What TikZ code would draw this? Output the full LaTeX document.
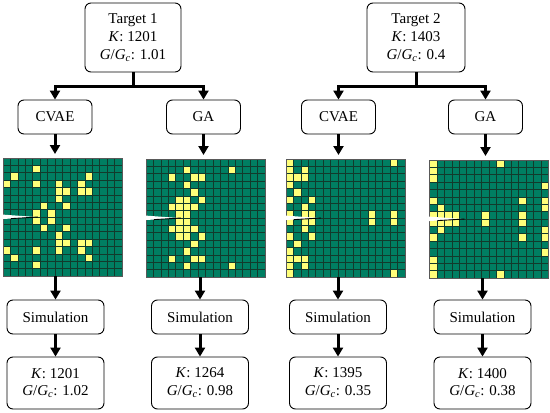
\documentclass[tikz,border=0pt]{standalone}
\usepackage{fontspec}
\setmainfont{Liberation Serif}
\usetikzlibrary{arrows.meta,calc}

\definecolor{cellgreen}{RGB}{0,126,98}
\definecolor{cellyellow}{RGB}{255,255,122}
\definecolor{cellline}{RGB}{18,58,44}

\newcommand{\GGc}{\textit{G}/\textit{G}\textsubscript{\textit{c}}}
\newcommand{\cellw}{7.4375}
\newcommand{\cellh}{7.375}

% one design: grid node name, list of yellow col/row cells
\newcommand{\designgrid}[2]{%
	\fill[cellgreen] (#1.north west) rectangle (#1.south east);
	\foreach \cx/\cy in {#2}
		\fill[cellyellow] ($(#1.north west)+(\cx*\cellw,\cy*\cellh)$) rectangle ++(\cellw,\cellh);
	\foreach \i in {1,...,15} {
		\draw[cellline, line width=0.6pt] ($(#1.north west)+(\i*\cellw,0)$) -- ($(#1.south west)+(\i*\cellw,0)$);
		\draw[cellline, line width=0.6pt] ($(#1.north west)+(0,\i*\cellh)$) -- ($(#1.north east)+(0,\i*\cellh)$);
	}
	\draw[gray!70!black, line width=0.8pt] (#1.north west) rectangle (#1.south east);
	% crack
	\fill[white] ($(#1.west)+(-3,-2.6)$) -- ($(#1.west)+(33,0)$) -- ($(#1.west)+(-3,2.2)$) -- cycle;
	\draw[line width=0.9pt] ($(#1.west)+(8,1.6)$) -- ($(#1.west)+(35,0)$);
}

\begin{document}
\begin{tikzpicture}[x=1pt, y=-1pt,
	box/.style={draw, rounded corners=6pt, line width=0.9pt, align=center, inner sep=0pt, font=\fontsize{15}{17.7}\selectfont},
	flow/.style={-{Triangle[width=10pt,length=9pt]}, line width=3pt},
	gridbox/.style={minimum width=119pt, minimum height=118pt, inner sep=0pt, outer sep=0pt}]
	
		\useasboundingbox (0,0) rectangle (550,413);
		
		% Targets
		\node[box, minimum width=96pt, minimum height=69pt] (t1) at (133,37.5) {Target 1\\\textit{K}: 1201\\\GGc: 1.01};
		\node[box, minimum width=98pt, minimum height=69pt] (t2) at (416,37.5) {Target 2\\\textit{K}: 1403\\\GGc: 0.4};
		\coordinate (j1) at (133,86);
		\coordinate (j2) at (416,86);
		
		% Methods
		\foreach \n/\x/\meth in {1/55/CVAE, 2/203.5/GA, 3/338.5/CVAE, 4/485.5/GA}
			\node[box, minimum width=74pt, minimum height=34pt] (m\n) at (\x,117) {\meth};
		
		% Designs
		\node[gridbox] (g1) at (62.5,217) {};
		\node[gridbox] (g2) at (205.5,218) {};
		\node[gridbox] (g3) at (345.5,218) {};
		\node[gridbox] (g4) at (489,219) {};
		
		\designgrid{g1}{4/1, 1/2, 11/2, 0/3, 4/3, 7/3, 10/3, 7/4, 8/4, 10/4, 11/4, 7/5, 5/6, 8/6, 4/7, 6/7,
			4/8, 6/8, 5/9, 8/9, 7/10, 7/11, 8/11, 10/11, 11/11, 0/12, 4/12, 7/12, 10/12, 1/13, 11/13, 4/14}
		\designgrid{g2}{5/1, 11/1, 3/2, 6/2, 7/2, 5/3, 6/4, 4/5, 5/5, 7/5, 3/6, 4/6, 5/6, 6/6, 4/7, 5/7,
			4/8, 5/8, 3/9, 4/9, 5/9, 6/9, 4/10, 5/10, 7/10, 6/11, 5/12, 3/13, 6/13, 7/13, 5/14, 11/14}
		\designgrid{g3}{0/0, 14/0, 0/1, 2/1, 0/2, 1/2, 2/2, 0/3, 1/4, 0/5, 3/5, 2/6, 0/7, 2/7, 3/7, 11/7, 14/7,
			0/8, 2/8, 3/8, 11/8, 14/8, 2/9, 0/10, 3/10, 1/11, 0/12, 0/13, 1/13, 2/13, 0/14, 2/14, 0/15, 14/15}
		\designgrid{g4}{0/0, 9/0, 0/1, 0/2, 15/3, 0/5, 12/5, 15/5, 1/6, 15/6, 0/7, 1/7, 2/7, 3/7, 7/7, 12/7,
			0/8, 1/8, 2/8, 3/8, 7/8, 12/8, 1/9, 15/9, 0/10, 12/10, 15/10, 15/12, 0/13, 0/14, 0/15, 9/15}
		
		% Simulation and results
		\foreach \n/\x in {1/55.5, 2/200, 3/338, 4/482.5}
			\node[box, minimum width=97pt, minimum height=34pt] (s\n) at (\x,317) {Simulation};
		\foreach \n/\x/\kv/\gv in {1/55.5/1201/1.02, 2/200/1264/0.98, 3/338/1395/0.35, 4/482.5/1400/0.38}
			\node[box, minimum width=97pt, minimum height=52pt] (r\n) at (\x,383) {\textit{K}: \kv\\\GGc: \gv};
		
		% Arrows
		\draw[flow] (t1.south) -- (j1) -| (m1.north);
		\draw[flow] (j1) -| (m2.north);
		\draw[flow] (t2.south) -- (j2) -| (m3.north);
		\draw[flow] (j2) -| (m4.north);
		\foreach \n in {1,2,3,4} {
			\draw[flow, shorten >=4pt] (m\n.south) -- (m\n.south |- g\n.north);
			\draw[flow] (s\n.north |- g\n.south) -- (s\n.north);
			\draw[flow] (s\n) -- (r\n);
		}
		
	\end{tikzpicture}
\end{document}
